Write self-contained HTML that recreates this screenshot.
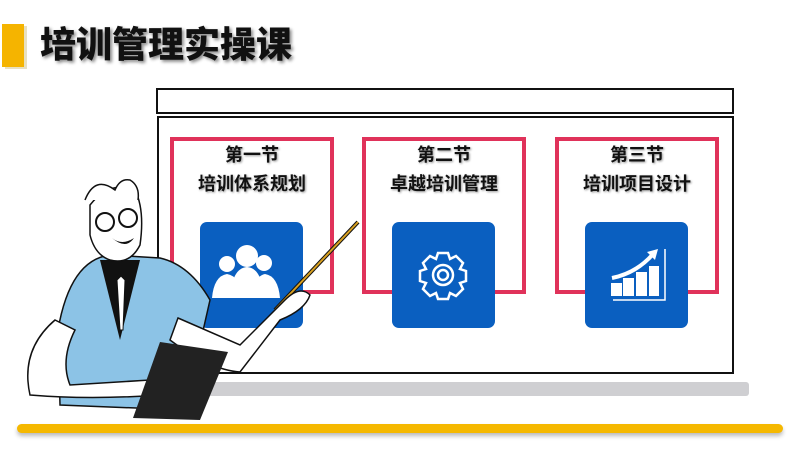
<!DOCTYPE html>
<html><head><meta charset="utf-8"><style>
body{margin:0;width:800px;height:450px;background:#fff;position:relative;overflow:hidden;font-family:"Liberation Sans","Noto Sans CJK SC",sans-serif}
.a{position:absolute;box-sizing:border-box}
.red{border:4px solid #e0325a;top:137px;width:164px;height:157px}
.blue{background:#0a5fc0;border-radius:7px;top:222px;width:103px;height:106px}
.t{position:absolute;width:164px;text-align:center;font-weight:bold;font-size:18px;color:#111;line-height:29px;top:141px;text-shadow:1px 1px 2px #999}
</style></head><body>
<div class="a" style="left:2px;top:24px;width:22px;height:43px;background:#f5b400;box-shadow:3px 2px 0 #e8e0c0"></div>
<div class="a" style="left:40px;top:23px;font-size:36px;font-weight:900;color:#111;text-shadow:2px 2px 3px #888;line-height:44px">培训管理实操课</div>
<div class="a" style="left:17px;top:424px;width:766px;height:9px;background:#f5b800;border-radius:5px;box-shadow:0 3px 4px #bbb"></div>
<div class="a" style="left:200px;top:382px;width:549px;height:14px;background:#cfcfd2;border-radius:3px"></div>
<div class="a" style="left:156px;top:88px;width:578px;height:26px;border:2px solid #111"></div>
<div class="a" style="left:157px;top:116px;width:577px;height:258px;border:2px solid #111"></div>
<div class="a red" style="left:170px"></div>
<div class="a red" style="left:362px"></div>
<div class="a red" style="left:555px"></div>
<div class="t" style="left:170px">第一节<br>培训体系规划</div>
<div class="t" style="left:362px">第二节<br>卓越培训管理</div>
<div class="t" style="left:555px">第三节<br>培训项目设计</div>
<div class="a blue" style="left:200px"></div>
<div class="a blue" style="left:392px"></div>
<div class="a blue" style="left:585px"></div>
<svg class="a" style="left:0;top:0" width="800" height="450">
<g fill="#fff">
<circle cx="227" cy="264" r="8"/><circle cx="264" cy="263" r="8"/><circle cx="247" cy="256" r="11"/>
<path d="M212 298 q2-22 15-24 q13 2 15 24z"/><path d="M252 298 q2-22 13-24 q13 2 15 24z"/><path d="M230 298 q2-30 17-31 q15 1 17 31z"/>
</g>
<g transform="translate(443,275)" fill="none" stroke="#fff" stroke-width="2.5">
<circle r="10"/><circle r="5"/>
<path d="M-5 -22 h10 l2 6 l6 -3 l7 7 l-3 6 l6 2 v10 l-6 2 l3 6 l-7 7 l-6 -3 l-2 6 h-10 l-2 -6 l-6 3 l-7 -7 l3 -6 l-6 -2 v-10 l6 -2 l-3 -6 l7 -7 l6 3z"/>
</g>
<g fill="#fff"><rect x="611" y="283" width="11" height="13"/><rect x="623" y="278" width="11" height="18"/><rect x="636" y="272" width="11" height="24"/><rect x="649" y="266" width="10" height="30"/></g>
<path d="M612 278 q25-5 42-25" stroke="#fff" stroke-width="4" fill="none"/><path d="M647 252 l11-3 -3 11z" fill="#fff"/>
<path d="M613 300 h52 v-51" stroke="#fff" stroke-width="1.5" fill="none"/>
<line x1="275" y1="310" x2="358" y2="222" stroke="#111" stroke-width="4"/><line x1="275" y1="310" x2="358" y2="222" stroke="#d8a020" stroke-width="2"/>
<path d="M60 405 L58 330 Q70 260 110 255 L160 258 Q190 265 210 300 L185 410z" fill="#8cc3e6" stroke="#111" stroke-width="1.5"/>
<path d="M100 260 L120 340 L140 260z" fill="#111"/><path d="M117 280 l4 -4 4 4 -2 50 -3 0z" fill="#fff" stroke="#111"/>
<path d="M30 395 Q20 350 55 320 L75 330 Q60 360 70 385 L150 380 L160 395 Q90 400 30 395z" fill="#fff" stroke="#111" stroke-width="1.5"/>
<path d="M178 318 L240 345 L285 300 Q300 285 310 295 Q305 310 280 320 L240 372 Q210 370 170 340z" fill="#fff" stroke="#111" stroke-width="1.5"/>
<path d="M160 342 L228 352 L200 420 L133 418z" fill="#222"/>
<path d="M90 205 Q110 180 135 190 Q145 210 140 245 Q130 265 110 260 Q95 255 90 235z" fill="#fff" stroke="#111" stroke-width="1.5"/>
<circle cx="105" cy="222" r="9" fill="none" stroke="#111" stroke-width="2"/><circle cx="128" cy="218" r="9" fill="none" stroke="#111" stroke-width="2"/>
<path d="M112 238 q10 8 22 0 q-8 12 -22 0z" fill="#111"/>
<path d="M85 200 Q95 175 115 190 Q120 178 130 180 Q140 186 138 200" fill="#fff" stroke="#111" stroke-width="1.5"/>
</svg>
</body></html>
